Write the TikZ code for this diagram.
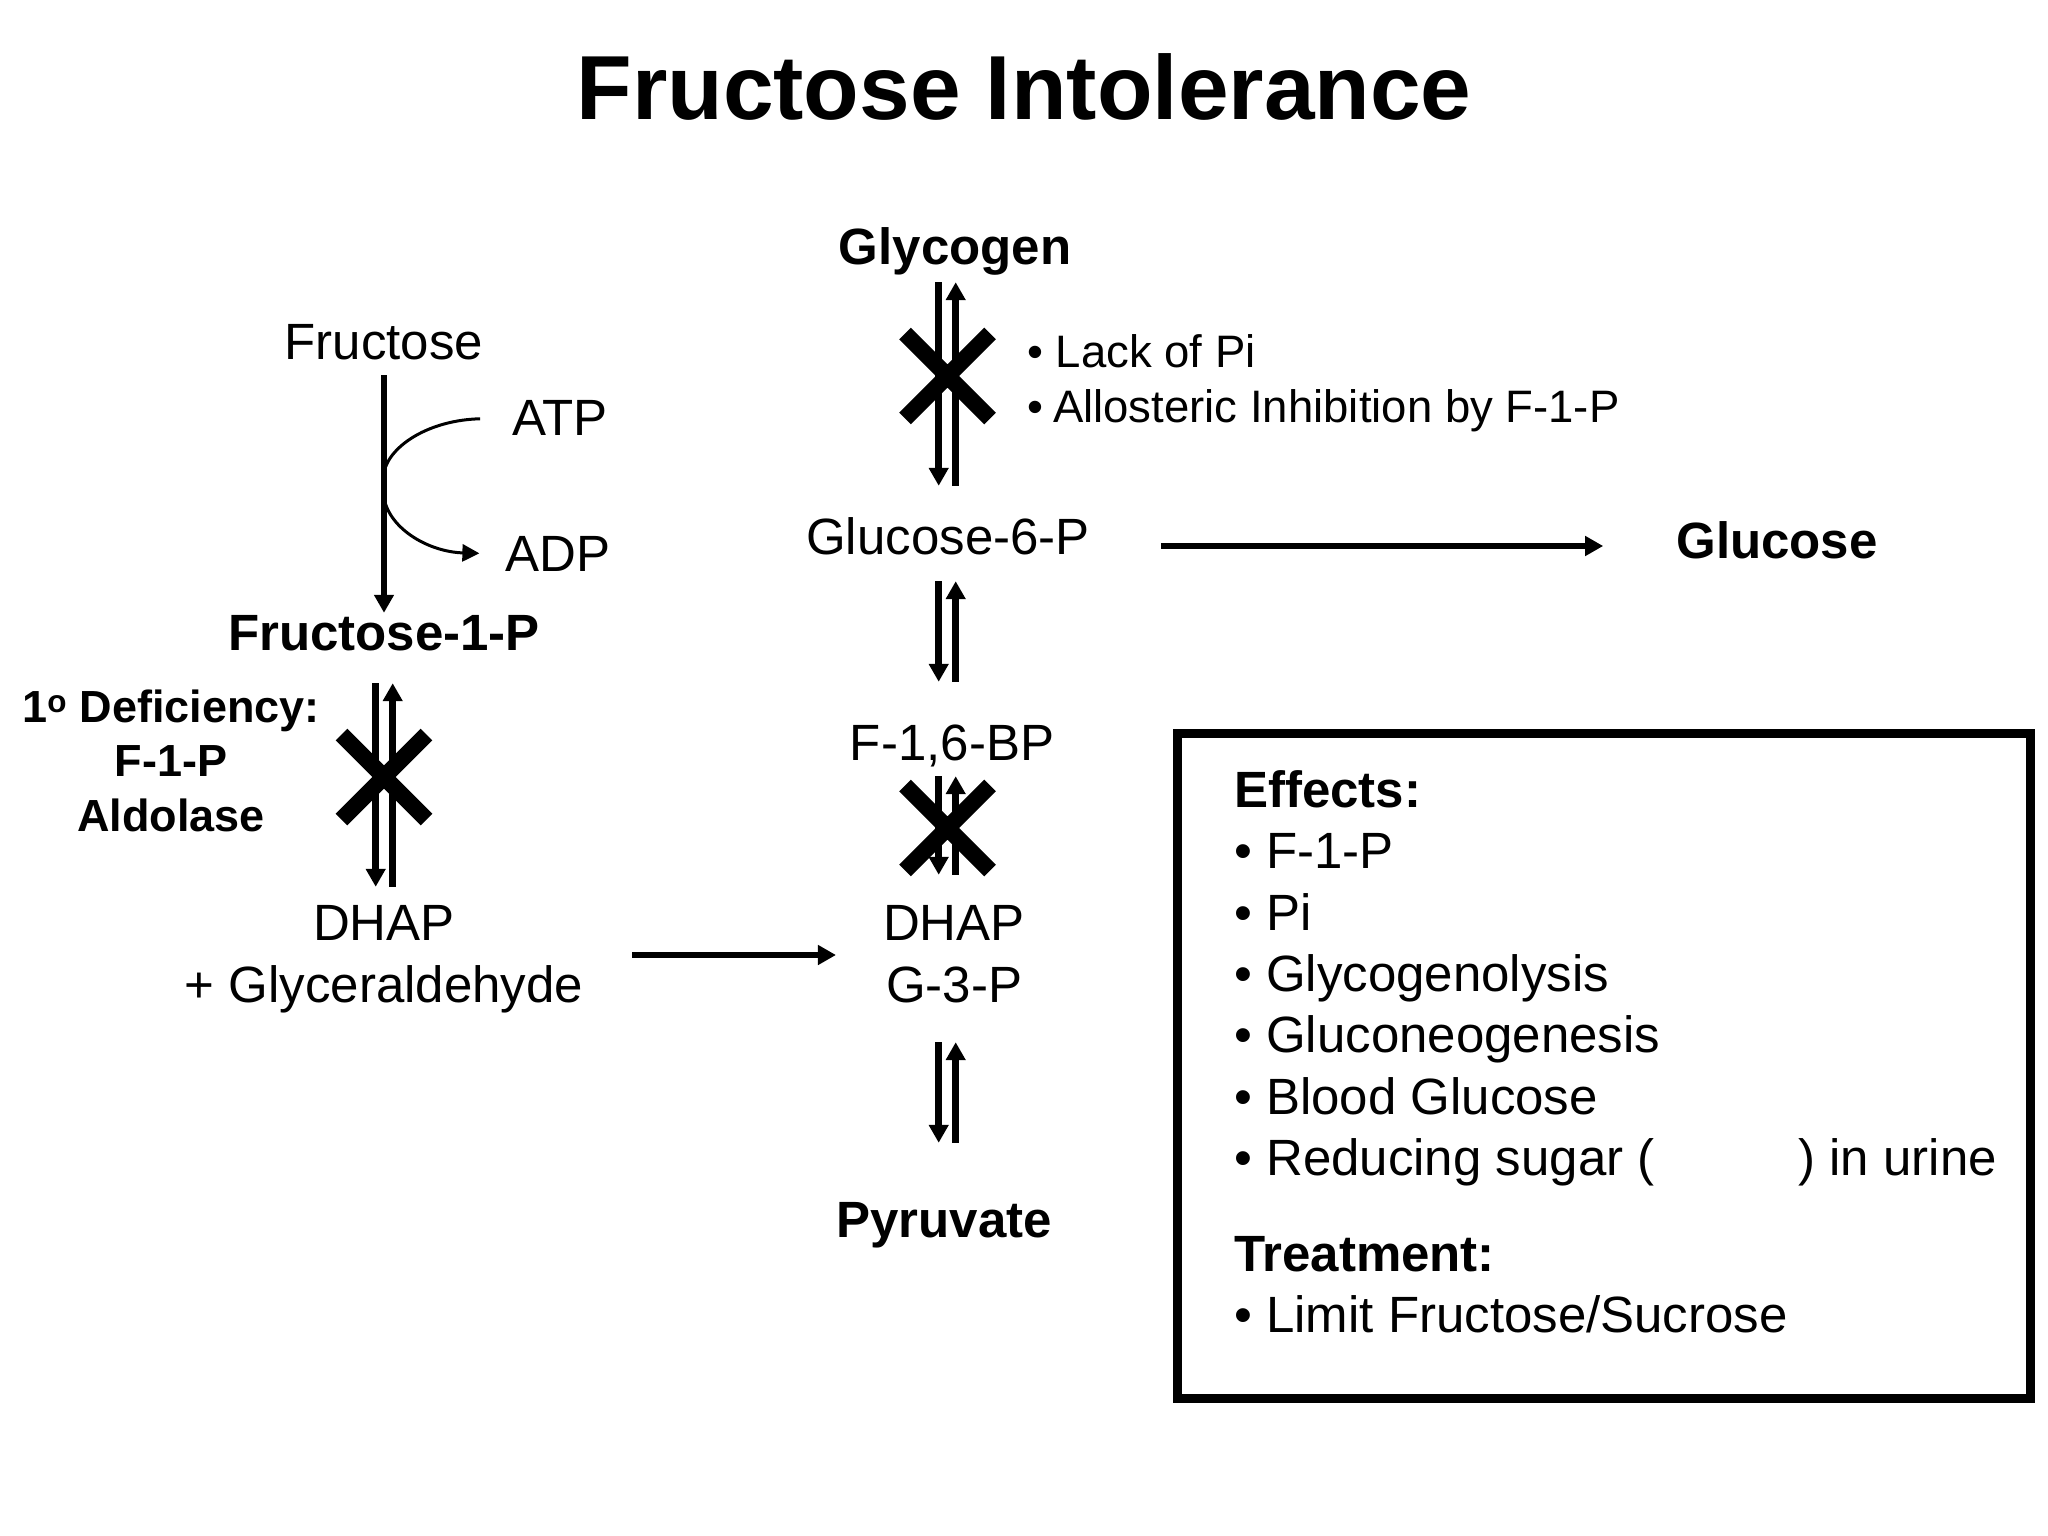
\documentclass[tikz,border=0pt]{standalone}
\usepackage{fontspec}
\setmainfont{Liberation Sans}
\usetikzlibrary{shapes.misc, arrows.meta}
\tikzstyle{lab}=[inner sep=0pt, text height=36pt, text depth=10pt, anchor=base, font=\fontsize{51}{60}\selectfont]
\tikzstyle{hit}=[lab, font=\fontsize{51}{60}\selectfont\bfseries]
\tikzstyle{note}=[lab, font=\fontsize{45}{50}\selectfont\bfseries]
\tikzstyle{reason}=[lab, anchor=base west, font=\fontsize{45.5}{55}\selectfont]
\tikzstyle{item}=[lab, anchor=base west]
\tikzstyle{head}=[hit, anchor=base west]
\tikzstyle{block}=[cross out, draw, line width=16.5pt, minimum size=85pt, inner sep=0pt, outer sep=0pt]
\tikzstyle{react}=[line width=6.5pt, -{Triangle[width=19pt,length=18pt]}]
\tikzstyle{side}=[line width=3pt, -{Triangle[width=17pt,length=17pt]}]

\begin{document}
\begin{tikzpicture}[x=1pt, y=-1pt]
\useasboundingbox (0,0) rectangle (2048,1536);
\node[lab, text height=65pt, text depth=20pt, font=\fontsize{91}{100}\selectfont\bfseries] (title) at (1024,120) {Fructose Intolerance};
% Left branch
    \node[lab] (fru) at (384,359) {Fructose};
    \node[lab] (atp) at (560,435) {ATP};
    \node[lab] (adp) at (558,571) {ADP};
    \node[hit] (fruP) at (384,650) {Fructose-1-P};
    \node[note] (def1) at (171,722) {1\textsuperscript{o} Deficiency:};
    \node[note] (def2) at (171,776) {F-1-P};
    \node[note] (def3) at (171,831) {Aldolase};
    \node[lab] (dhapA) at (384,940) {DHAP};
    \node[lab] (gald) at (384,1002) {+ Glyceraldehyde};
    \coordinate (turnA) at (384,472);
    \coordinate (turnB) at (384,498);
% Middle column
    \node[hit] (gly) at (955,264) {Glycogen};
    \node[reason] (lack) at (1027,367) {• Lack of Pi};
    \node[reason] (allo) at (1027,422) {•\hspace{10pt}Allosteric Inhibition by F-1-P};
    \node[lab] (g6p) at (948,554) {Glucose-6-P};
    \node[hit] (glu) at (1777,558) {Glucose};
    \node[lab] (fbp) at (952,760) {F-1,6-BP};
    \node[lab] (dhapB) at (954,940) {DHAP};
    \node[lab] (g3p) at (954,1002) {G-3-P};
    \node[hit] (pyr) at (944,1237) {Pyruvate};
% Effects box
    \node[draw, line width=9pt, minimum width=853pt, minimum height=665pt, inner sep=0pt] (fxbox) at (1604,1066) {};
    \node[head] (fx0) at (1234,807) {Effects:};
    \node[item] (fx1) at (1234,868) {• F-1-P};
    \node[item] (fx2) at (1234,930) {• Pi};
    \node[item] (fx3) at (1234,991) {• Glycogenolysis};
    \node[item] (fx4) at (1234,1052) {• Gluconeogenesis};
    \node[item] (fx5) at (1234,1114) {• Blood Glucose};
    \node[item] (fx6) at (1234,1175) {• Reducing sugar (\hspace*{144pt}) in urine};
    \node[head] (tr0) at (1234,1271) {Treatment:};
    \node[item] (tr1) at (1234,1332) {• Limit Fructose/Sucrose};
% Left branch arrows
    \draw[react, shorten <=6pt, shorten >=1pt] (fru.south) -- (fruP.north);
    \draw[line width=3pt, shorten <=32pt] ([yshift=4pt]atp.west) .. controls (430,420) and (390,445) .. (turnA);
    \draw[side, shorten >=26pt] (turnB) .. controls (390,530) and (430,552) .. ([yshift=4pt]adp.west);
    \draw[react, shorten <=23pt, shorten >=17pt] ([xshift=-8.3pt]fruP.south) -- ([xshift=-8.3pt]dhapA.north);
    \draw[react, shorten <=17pt, shorten >=23pt] ([xshift=8.7pt]dhapA.north) -- ([xshift=8.7pt]fruP.south);
    \draw[react, shorten <=177pt, shorten >=47pt] ([yshift=-28pt]dhapA.east) -- ([yshift=-28pt]dhapB.west);
% Middle column arrows
    \draw[react, shorten <=8pt, shorten >=32pt] ([xshift=-16.3pt]gly.south) -- ([xshift=-9.3pt]g6p.north);
    \draw[react, shorten <=32pt, shorten >=8pt] ([xshift=7.7pt]g6p.north) -- ([xshift=.7pt]gly.south);
    \draw[react, shorten <=17pt, shorten >=42pt] ([xshift=-9.3pt]g6p.south) -- ([xshift=-13.3pt]fbp.north);
    \draw[react, shorten <=42pt, shorten >=17pt] ([xshift=3.7pt]fbp.north) -- ([xshift=7.7pt]g6p.south);
    \draw[react, shorten <=6pt, shorten >=29pt] ([xshift=-13.3pt]fbp.south) -- ([xshift=-15.3pt]dhapB.north);
    \draw[react, shorten <=29pt, shorten >=6pt] ([xshift=1.7pt]dhapB.north) -- ([xshift=3.7pt]fbp.south);
    \draw[react, shorten <=30pt, shorten >=58pt] ([xshift=-15.3pt]g3p.south) -- ([xshift=-5.3pt]pyr.north);
    \draw[react, shorten <=58pt, shorten >=30pt] ([xshift=11.7pt]pyr.north) -- ([xshift=1.7pt]g3p.south);
    \draw[react, shorten <=71pt, shorten >=73pt] ([yshift=-5pt]g6p.east) -- ([yshift=-1pt]glu.west);
% Blocks
    \node[block] (stop1) at (384,777) {};
    \node[block] (stop2) at (947.5,376) {};
    \node[block] (stop3) at (947.5,828) {};
\end{tikzpicture}
\end{document}
